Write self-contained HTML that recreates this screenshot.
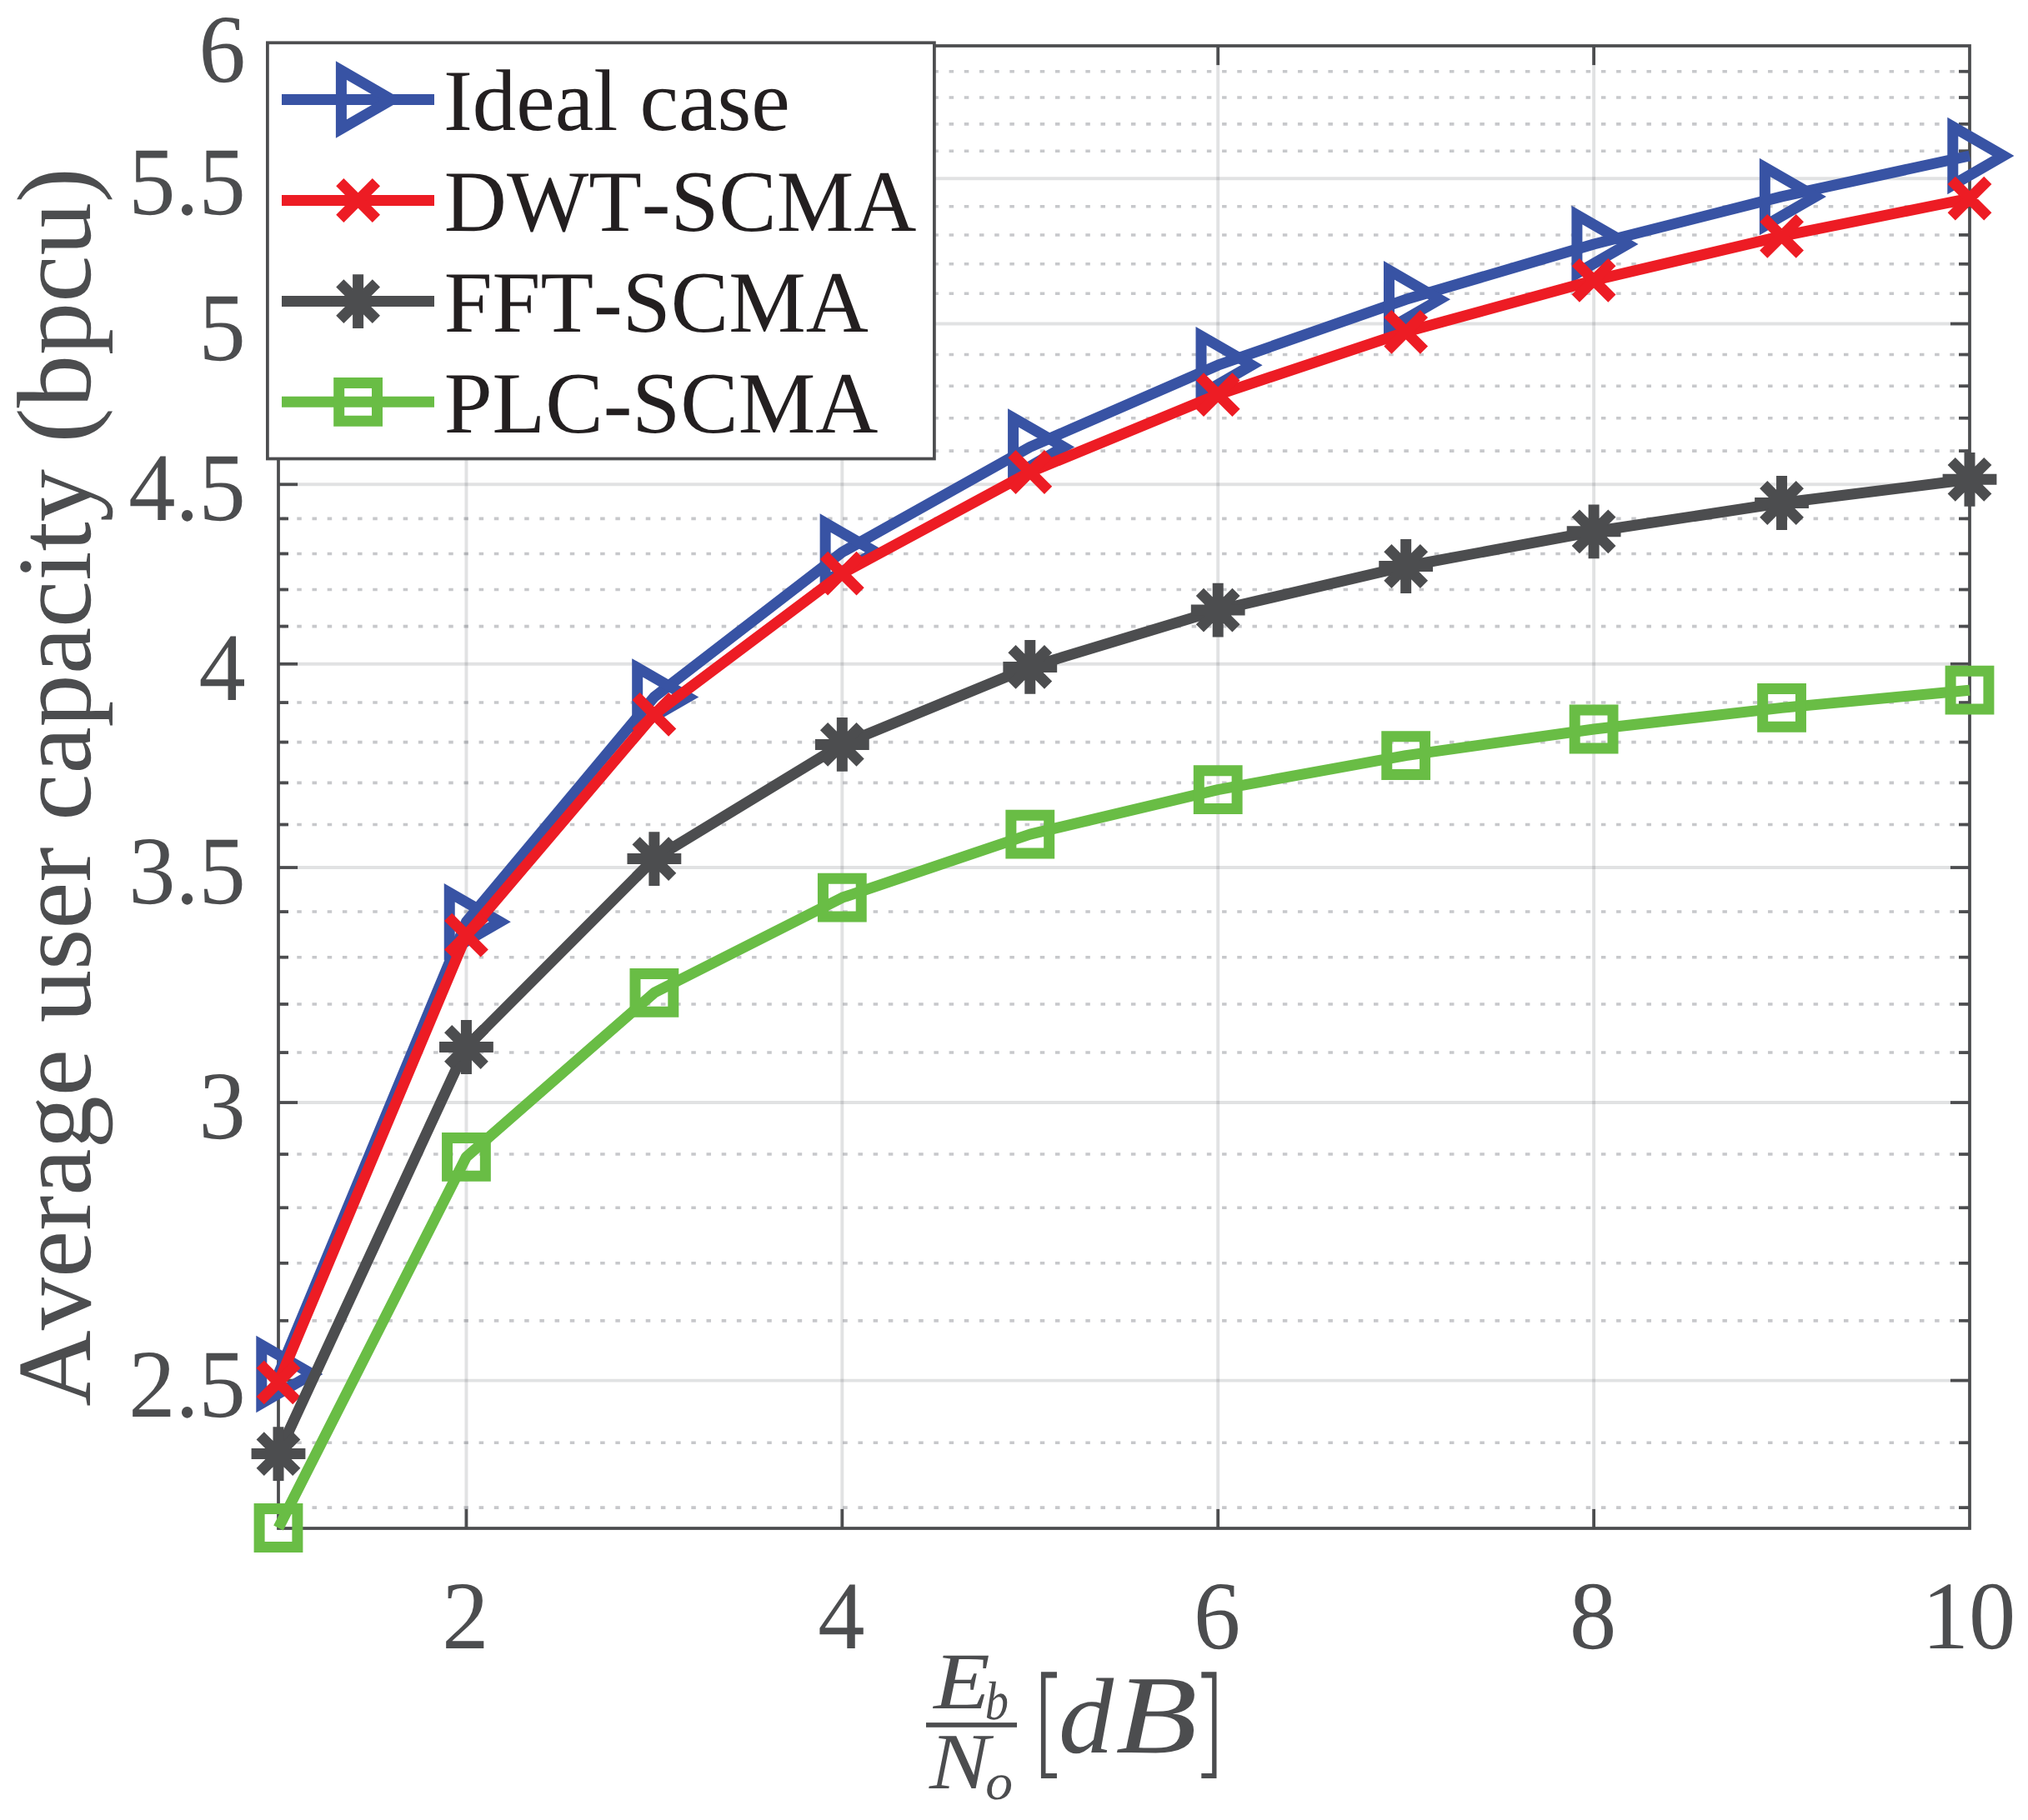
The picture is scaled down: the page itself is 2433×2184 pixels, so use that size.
<!DOCTYPE html>
<html lang="en"><head><meta charset="utf-8"><title>Average user capacity</title>
<style>html,body{margin:0;padding:0;background:#fff}body{width:2433px;height:2184px;overflow:hidden}svg{display:block}text{font-family:"Liberation Serif","Times New Roman",Times,serif;font-kerning:none;font-variant-ligatures:none;text-rendering:geometricPrecision}text.dj{font-family:"DejaVu Sans Light","DejaVu Sans",sans-serif;font-weight:200}</style></head><body>
<svg width="2433" height="2184" viewBox="0 0 2433 2184">
<rect x="0" y="0" width="2433" height="2184" fill="#fff"/>
<g fill="none" stroke-width="3.9" stroke="rgba(30,35,48,0.135)">
<line x1="559.44" y1="55.00" x2="559.44" y2="1834.00"/>
<line x1="1010.33" y1="55.00" x2="1010.33" y2="1834.00"/>
<line x1="1461.22" y1="55.00" x2="1461.22" y2="1834.00"/>
<line x1="1912.11" y1="55.00" x2="1912.11" y2="1834.00"/>
<line x1="334.00" y1="1656.58" x2="2363.00" y2="1656.58"/>
<line x1="334.00" y1="1323.04" x2="2363.00" y2="1323.04"/>
<line x1="334.00" y1="1041.04" x2="2363.00" y2="1041.04"/>
<line x1="334.00" y1="796.76" x2="2363.00" y2="796.76"/>
<line x1="334.00" y1="581.29" x2="2363.00" y2="581.29"/>
<line x1="334.00" y1="388.54" x2="2363.00" y2="388.54"/>
<line x1="334.00" y1="214.18" x2="2363.00" y2="214.18"/>
</g>
<g fill="none" stroke-width="3.6" stroke="rgba(30,35,48,0.25)" stroke-dasharray="5.500 12.693">
<line x1="338.11" y1="1809.12" x2="2363.00" y2="1809.12"/>
<line x1="338.11" y1="1731.26" x2="2363.00" y2="1731.26"/>
<line x1="338.11" y1="1584.83" x2="2363.00" y2="1584.83"/>
<line x1="338.11" y1="1515.79" x2="2363.00" y2="1515.79"/>
<line x1="338.11" y1="1449.26" x2="2363.00" y2="1449.26"/>
<line x1="338.11" y1="1385.06" x2="2363.00" y2="1385.06"/>
<line x1="338.11" y1="1263.06" x2="2363.00" y2="1263.06"/>
<line x1="338.11" y1="1204.98" x2="2363.00" y2="1204.98"/>
<line x1="338.11" y1="1148.68" x2="2363.00" y2="1148.68"/>
<line x1="338.11" y1="1094.07" x2="2363.00" y2="1094.07"/>
<line x1="338.11" y1="989.50" x2="2363.00" y2="989.50"/>
<line x1="338.11" y1="939.38" x2="2363.00" y2="939.38"/>
<line x1="338.11" y1="890.59" x2="2363.00" y2="890.59"/>
<line x1="338.11" y1="843.07" x2="2363.00" y2="843.07"/>
<line x1="338.11" y1="751.59" x2="2363.00" y2="751.59"/>
<line x1="338.11" y1="707.50" x2="2363.00" y2="707.50"/>
<line x1="338.11" y1="664.45" x2="2363.00" y2="664.45"/>
<line x1="338.11" y1="622.40" x2="2363.00" y2="622.40"/>
<line x1="338.11" y1="541.08" x2="2363.00" y2="541.08"/>
<line x1="338.11" y1="501.73" x2="2363.00" y2="501.73"/>
<line x1="338.11" y1="463.22" x2="2363.00" y2="463.22"/>
<line x1="338.11" y1="425.50" x2="2363.00" y2="425.50"/>
<line x1="338.11" y1="352.31" x2="2363.00" y2="352.31"/>
<line x1="338.11" y1="316.79" x2="2363.00" y2="316.79"/>
<line x1="338.11" y1="281.94" x2="2363.00" y2="281.94"/>
<line x1="338.11" y1="247.75" x2="2363.00" y2="247.75"/>
<line x1="338.11" y1="181.22" x2="2363.00" y2="181.22"/>
<line x1="338.11" y1="148.84" x2="2363.00" y2="148.84"/>
<line x1="338.11" y1="117.02" x2="2363.00" y2="117.02"/>
<line x1="338.11" y1="85.75" x2="2363.00" y2="85.75"/>
</g>
<g fill="none" stroke="#4c4d4f" stroke-width="3.75" stroke-linecap="butt">
<rect x="334.00" y="55.00" width="2029.00" height="1779.00"/>
<line x1="559.44" y1="1834.00" x2="559.44" y2="1810.90"/>
<line x1="559.44" y1="55.00" x2="559.44" y2="78.10"/>
<line x1="1010.33" y1="1834.00" x2="1010.33" y2="1810.90"/>
<line x1="1010.33" y1="55.00" x2="1010.33" y2="78.10"/>
<line x1="1461.22" y1="1834.00" x2="1461.22" y2="1810.90"/>
<line x1="1461.22" y1="55.00" x2="1461.22" y2="78.10"/>
<line x1="1912.11" y1="1834.00" x2="1912.11" y2="1810.90"/>
<line x1="1912.11" y1="55.00" x2="1912.11" y2="78.10"/>
<line x1="334.00" y1="1809.12" x2="346.00" y2="1809.12"/>
<line x1="2363.00" y1="1809.12" x2="2350.00" y2="1809.12"/>
<line x1="334.00" y1="1731.26" x2="346.00" y2="1731.26"/>
<line x1="2363.00" y1="1731.26" x2="2350.00" y2="1731.26"/>
<line x1="334.00" y1="1656.58" x2="357.10" y2="1656.58"/>
<line x1="2363.00" y1="1656.58" x2="2339.90" y2="1656.58"/>
<line x1="334.00" y1="1584.83" x2="346.00" y2="1584.83"/>
<line x1="2363.00" y1="1584.83" x2="2350.00" y2="1584.83"/>
<line x1="334.00" y1="1515.79" x2="346.00" y2="1515.79"/>
<line x1="2363.00" y1="1515.79" x2="2350.00" y2="1515.79"/>
<line x1="334.00" y1="1449.26" x2="346.00" y2="1449.26"/>
<line x1="2363.00" y1="1449.26" x2="2350.00" y2="1449.26"/>
<line x1="334.00" y1="1385.06" x2="346.00" y2="1385.06"/>
<line x1="2363.00" y1="1385.06" x2="2350.00" y2="1385.06"/>
<line x1="334.00" y1="1323.04" x2="357.10" y2="1323.04"/>
<line x1="2363.00" y1="1323.04" x2="2339.90" y2="1323.04"/>
<line x1="334.00" y1="1263.06" x2="346.00" y2="1263.06"/>
<line x1="2363.00" y1="1263.06" x2="2350.00" y2="1263.06"/>
<line x1="334.00" y1="1204.98" x2="346.00" y2="1204.98"/>
<line x1="2363.00" y1="1204.98" x2="2350.00" y2="1204.98"/>
<line x1="334.00" y1="1148.68" x2="346.00" y2="1148.68"/>
<line x1="2363.00" y1="1148.68" x2="2350.00" y2="1148.68"/>
<line x1="334.00" y1="1094.07" x2="346.00" y2="1094.07"/>
<line x1="2363.00" y1="1094.07" x2="2350.00" y2="1094.07"/>
<line x1="334.00" y1="1041.04" x2="357.10" y2="1041.04"/>
<line x1="2363.00" y1="1041.04" x2="2339.90" y2="1041.04"/>
<line x1="334.00" y1="989.50" x2="346.00" y2="989.50"/>
<line x1="2363.00" y1="989.50" x2="2350.00" y2="989.50"/>
<line x1="334.00" y1="939.38" x2="346.00" y2="939.38"/>
<line x1="2363.00" y1="939.38" x2="2350.00" y2="939.38"/>
<line x1="334.00" y1="890.59" x2="346.00" y2="890.59"/>
<line x1="2363.00" y1="890.59" x2="2350.00" y2="890.59"/>
<line x1="334.00" y1="843.07" x2="346.00" y2="843.07"/>
<line x1="2363.00" y1="843.07" x2="2350.00" y2="843.07"/>
<line x1="334.00" y1="796.76" x2="357.10" y2="796.76"/>
<line x1="2363.00" y1="796.76" x2="2339.90" y2="796.76"/>
<line x1="334.00" y1="751.59" x2="346.00" y2="751.59"/>
<line x1="2363.00" y1="751.59" x2="2350.00" y2="751.59"/>
<line x1="334.00" y1="707.50" x2="346.00" y2="707.50"/>
<line x1="2363.00" y1="707.50" x2="2350.00" y2="707.50"/>
<line x1="334.00" y1="664.45" x2="346.00" y2="664.45"/>
<line x1="2363.00" y1="664.45" x2="2350.00" y2="664.45"/>
<line x1="334.00" y1="622.40" x2="346.00" y2="622.40"/>
<line x1="2363.00" y1="622.40" x2="2350.00" y2="622.40"/>
<line x1="334.00" y1="581.29" x2="357.10" y2="581.29"/>
<line x1="2363.00" y1="581.29" x2="2339.90" y2="581.29"/>
<line x1="334.00" y1="541.08" x2="346.00" y2="541.08"/>
<line x1="2363.00" y1="541.08" x2="2350.00" y2="541.08"/>
<line x1="334.00" y1="501.73" x2="346.00" y2="501.73"/>
<line x1="2363.00" y1="501.73" x2="2350.00" y2="501.73"/>
<line x1="334.00" y1="463.22" x2="346.00" y2="463.22"/>
<line x1="2363.00" y1="463.22" x2="2350.00" y2="463.22"/>
<line x1="334.00" y1="425.50" x2="346.00" y2="425.50"/>
<line x1="2363.00" y1="425.50" x2="2350.00" y2="425.50"/>
<line x1="334.00" y1="388.54" x2="357.10" y2="388.54"/>
<line x1="2363.00" y1="388.54" x2="2339.90" y2="388.54"/>
<line x1="334.00" y1="352.31" x2="346.00" y2="352.31"/>
<line x1="2363.00" y1="352.31" x2="2350.00" y2="352.31"/>
<line x1="334.00" y1="316.79" x2="346.00" y2="316.79"/>
<line x1="2363.00" y1="316.79" x2="2350.00" y2="316.79"/>
<line x1="334.00" y1="281.94" x2="346.00" y2="281.94"/>
<line x1="2363.00" y1="281.94" x2="2350.00" y2="281.94"/>
<line x1="334.00" y1="247.75" x2="346.00" y2="247.75"/>
<line x1="2363.00" y1="247.75" x2="2350.00" y2="247.75"/>
<line x1="334.00" y1="214.18" x2="357.10" y2="214.18"/>
<line x1="2363.00" y1="214.18" x2="2339.90" y2="214.18"/>
<line x1="334.00" y1="181.22" x2="346.00" y2="181.22"/>
<line x1="2363.00" y1="181.22" x2="2350.00" y2="181.22"/>
<line x1="334.00" y1="148.84" x2="346.00" y2="148.84"/>
<line x1="2363.00" y1="148.84" x2="2350.00" y2="148.84"/>
<line x1="334.00" y1="117.02" x2="346.00" y2="117.02"/>
<line x1="2363.00" y1="117.02" x2="2350.00" y2="117.02"/>
<line x1="334.00" y1="85.75" x2="346.00" y2="85.75"/>
<line x1="2363.00" y1="85.75" x2="2350.00" y2="85.75"/>
</g>
<g fill="none" stroke="#3853a4" stroke-width="13.00" stroke-linejoin="miter" stroke-miterlimit="10">
<polyline points="334.00,1649.00 559.44,1106.20 784.89,836.40 1010.33,662.60 1235.78,536.40 1461.22,438.20 1686.67,359.30 1912.11,293.00 2137.56,235.90 2363.00,187.00" stroke-linejoin="round"/>
<path d="M374.40 1649.00L313.80 1614.01L313.80 1683.99ZM599.84 1106.20L539.24 1071.21L539.24 1141.19ZM825.29 836.40L764.69 801.41L764.69 871.39ZM1050.73 662.60L990.13 627.61L990.13 697.59ZM1276.18 536.40L1215.58 501.41L1215.58 571.39ZM1501.62 438.20L1441.02 403.21L1441.02 473.19ZM1727.07 359.30L1666.47 324.31L1666.47 394.29ZM1952.51 293.00L1891.91 258.01L1891.91 327.99ZM2177.96 235.90L2117.36 200.91L2117.36 270.89ZM2403.40 187.00L2342.80 152.01L2342.80 221.99Z"/>
</g>
<g fill="none" stroke="#ed1c24" stroke-width="13.00" stroke-linejoin="miter" stroke-miterlimit="10">
<polyline points="334.00,1658.90 559.44,1122.20 784.89,857.30 1010.33,688.10 1235.78,566.50 1461.22,473.60 1686.67,398.30 1912.11,336.40 2137.56,283.40 2363.00,238.10" stroke-linejoin="round"/>
<path d="M312.20 1637.10L355.80 1680.70M312.20 1680.70L355.80 1637.10M537.64 1100.40L581.24 1144.00M537.64 1144.00L581.24 1100.40M763.09 835.50L806.69 879.10M763.09 879.10L806.69 835.50M988.53 666.30L1032.13 709.90M988.53 709.90L1032.13 666.30M1213.98 544.70L1257.58 588.30M1213.98 588.30L1257.58 544.70M1439.42 451.80L1483.02 495.40M1439.42 495.40L1483.02 451.80M1664.87 376.50L1708.47 420.10M1664.87 420.10L1708.47 376.50M1890.31 314.60L1933.91 358.20M1890.31 358.20L1933.91 314.60M2115.76 261.60L2159.36 305.20M2115.76 305.20L2159.36 261.60M2341.20 216.30L2384.80 259.90M2341.20 259.90L2384.80 216.30"/>
</g>
<g fill="none" stroke="#4c4d4f" stroke-width="13.00" stroke-linejoin="miter" stroke-miterlimit="10">
<polyline points="334.00,1744.60 559.44,1256.50 784.89,1030.60 1010.33,893.40 1235.78,800.40 1461.22,732.10 1686.67,679.50 1912.11,637.80 2137.56,603.50 2363.00,575.30" stroke-linejoin="round"/>
<path d="M312.20 1722.80L355.80 1766.40M312.20 1766.40L355.80 1722.80M301.60 1744.60L366.40 1744.60M334.00 1712.20L334.00 1777.00M537.64 1234.70L581.24 1278.30M537.64 1278.30L581.24 1234.70M527.04 1256.50L591.84 1256.50M559.44 1224.10L559.44 1288.90M763.09 1008.80L806.69 1052.40M763.09 1052.40L806.69 1008.80M752.49 1030.60L817.29 1030.60M784.89 998.20L784.89 1063.00M988.53 871.60L1032.13 915.20M988.53 915.20L1032.13 871.60M977.93 893.40L1042.73 893.40M1010.33 861.00L1010.33 925.80M1213.98 778.60L1257.58 822.20M1213.98 822.20L1257.58 778.60M1203.38 800.40L1268.18 800.40M1235.78 768.00L1235.78 832.80M1439.42 710.30L1483.02 753.90M1439.42 753.90L1483.02 710.30M1428.82 732.10L1493.62 732.10M1461.22 699.70L1461.22 764.50M1664.87 657.70L1708.47 701.30M1664.87 701.30L1708.47 657.70M1654.27 679.50L1719.07 679.50M1686.67 647.10L1686.67 711.90M1890.31 616.00L1933.91 659.60M1890.31 659.60L1933.91 616.00M1879.71 637.80L1944.51 637.80M1912.11 605.40L1912.11 670.20M2115.76 581.70L2159.36 625.30M2115.76 625.30L2159.36 581.70M2105.16 603.50L2169.96 603.50M2137.56 571.10L2137.56 635.90M2341.20 553.50L2384.80 597.10M2341.20 597.10L2384.80 553.50M2330.60 575.30L2395.40 575.30M2363.00 542.90L2363.00 607.70"/>
</g>
<g fill="none" stroke="#69bd45" stroke-width="13.00" stroke-linejoin="miter" stroke-miterlimit="10">
<polyline points="334.00,1833.50 559.44,1388.30 784.89,1191.30 1010.33,1077.20 1235.78,1001.10 1461.22,947.60 1686.67,906.60 1912.11,875.00 2137.56,849.40 2363.00,828.20" stroke-linejoin="round"/>
<path d="M311.10 1810.60H356.90V1856.40H311.10ZM536.54 1365.40H582.34V1411.20H536.54ZM761.99 1168.40H807.79V1214.20H761.99ZM987.43 1054.30H1033.23V1100.10H987.43ZM1212.88 978.20H1258.68V1024.00H1212.88ZM1438.32 924.70H1484.12V970.50H1438.32ZM1663.77 883.70H1709.57V929.50H1663.77ZM1889.21 852.10H1935.01V897.90H1889.21ZM2114.66 826.50H2160.46V872.30H2114.66ZM2340.10 805.30H2385.90V851.10H2340.10Z"/>
</g>
<rect x="320.9" y="51.3" width="800" height="499.2" fill="#fff" stroke="#4c4d4f" stroke-width="3.75"/>
<g fill="none" stroke="#3853a4" stroke-width="13.00"><line x1="338" y1="119.60" x2="521" y2="119.60"/><path d="M470.00 119.60L409.40 84.61L409.40 154.59Z"/></g>
<text transform="translate(531.91 155.90) scale(1.0000 1)" font-size="104.80" fill="#231f20">Ideal case</text>
<g fill="none" stroke="#ed1c24" stroke-width="13.00"><line x1="338" y1="240.50" x2="521" y2="240.50"/><path d="M407.80 218.70L451.40 262.30M407.80 262.30L451.40 218.70"/></g>
<text transform="translate(532.70 276.80) scale(0.9935 1)" font-size="104.80" fill="#231f20">DWT-SCMA</text>
<g fill="none" stroke="#4c4d4f" stroke-width="13.00"><line x1="338" y1="361.60" x2="521" y2="361.60"/><path d="M407.80 339.80L451.40 383.40M407.80 383.40L451.40 339.80M397.20 361.60L462.00 361.60M429.60 329.20L429.60 394.00"/></g>
<text transform="translate(532.70 397.90) scale(0.9935 1)" font-size="104.80" fill="#231f20">FFT-SCMA</text>
<g fill="none" stroke="#69bd45" stroke-width="13.00"><line x1="338" y1="482.30" x2="521" y2="482.30"/><path d="M406.70 459.40H452.50V505.20H406.70Z"/></g>
<text transform="translate(532.70 518.60) scale(0.9935 1)" font-size="104.80" fill="#231f20">PLC-SCMA</text>
<text transform="translate(294.80 98.20) scale(1 1.0340)" text-anchor="end" font-size="112.50" fill="#4c4d4f">6</text>
<text transform="translate(294.80 257.38) scale(1 1.0340)" text-anchor="end" font-size="112.50" fill="#4c4d4f">5.5</text>
<text transform="translate(294.80 431.74) scale(1 1.0340)" text-anchor="end" font-size="112.50" fill="#4c4d4f">5</text>
<text transform="translate(294.80 624.49) scale(1 1.0340)" text-anchor="end" font-size="112.50" fill="#4c4d4f">4.5</text>
<text transform="translate(294.80 839.96) scale(1 1.0340)" text-anchor="end" font-size="112.50" fill="#4c4d4f">4</text>
<text transform="translate(294.80 1084.24) scale(1 1.0340)" text-anchor="end" font-size="112.50" fill="#4c4d4f">3.5</text>
<text transform="translate(294.80 1366.24) scale(1 1.0340)" text-anchor="end" font-size="112.50" fill="#4c4d4f">3</text>
<text transform="translate(294.80 1699.78) scale(1 1.0340)" text-anchor="end" font-size="112.50" fill="#4c4d4f">2.5</text>
<text transform="translate(558.44 1978.00) scale(1 1.0340)" text-anchor="middle" font-size="112.50" fill="#4c4d4f">2</text>
<text transform="translate(1009.33 1978.00) scale(1 1.0340)" text-anchor="middle" font-size="112.50" fill="#4c4d4f">4</text>
<text transform="translate(1460.22 1978.00) scale(1 1.0340)" text-anchor="middle" font-size="112.50" fill="#4c4d4f">6</text>
<text transform="translate(1911.11 1978.00) scale(1 1.0340)" text-anchor="middle" font-size="112.50" fill="#4c4d4f">8</text>
<text transform="translate(2362.00 1978.00) scale(1 1.0340)" text-anchor="middle" font-size="112.50" fill="#4c4d4f">10</text>
<text transform="translate(107.9 1687.7) rotate(-90)" font-size="126.60" fill="#4c4d4f">Average user capacity (bpcu)</text>
<text transform="translate(1120.19 2050.05) scale(1.1455 1)" font-size="96.44" fill="#4c4d4f" font-style="italic">E</text>
<text transform="translate(1181.71 2063.36) scale(0.8646 1)" font-size="65.23" fill="#4c4d4f" font-style="italic">b</text>
<text transform="translate(1114.89 2145.90) scale(1.1302 1)" font-size="95.76" fill="#4c4d4f" font-style="italic">N</text>
<text transform="translate(1182.15 2159.21) scale(1.0771 1)" font-size="60.92" fill="#4c4d4f" font-style="italic">o</text>
<rect x="1111" y="2067.1" width="109" height="5.7" fill="#4c4d4f"/>
<text transform="translate(1235.97 2115.02) scale(0.7967 1)" font-size="143.23" fill="#4c4d4f" class="dj">[</text>
<text transform="translate(1269.91 2102.58) scale(1.0220 1)" font-size="129.10" fill="#4c4d4f" font-style="italic">d</text>
<text transform="translate(1338.61 2102.61) scale(1.1973 1)" font-size="133.87" fill="#4c4d4f" font-style="italic">B</text>
<text transform="translate(1428.92 2115.02) scale(0.7611 1)" font-size="143.23" fill="#4c4d4f" class="dj">]</text>
</svg></body></html>
